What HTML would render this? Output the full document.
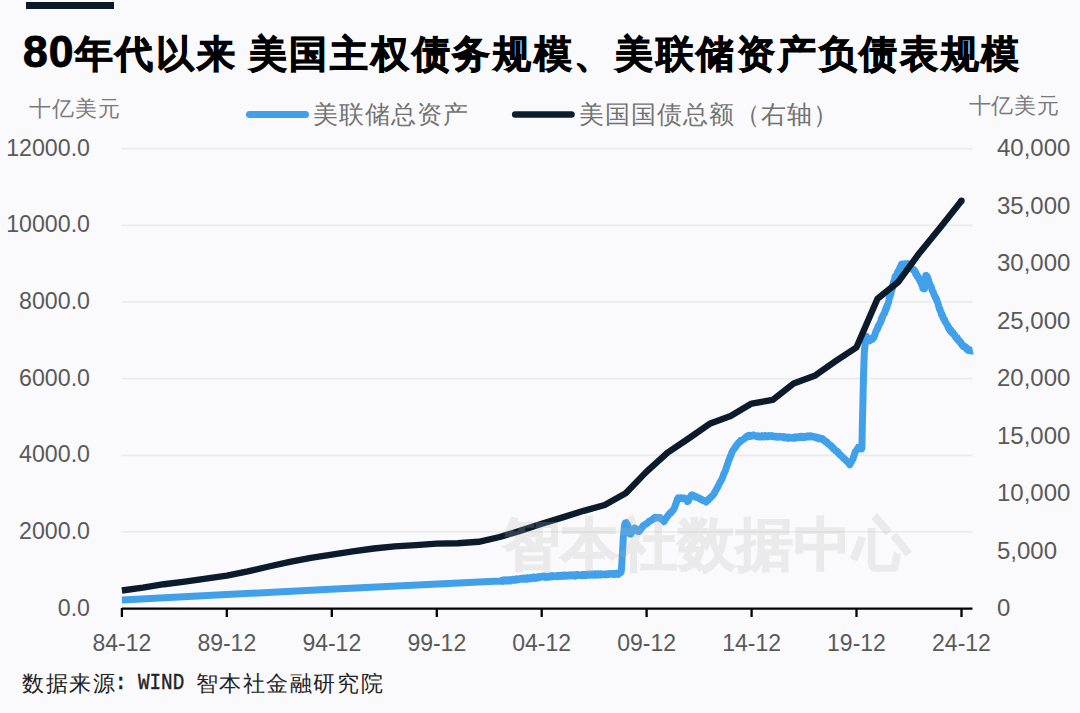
<!DOCTYPE html>
<html><head><meta charset="utf-8"><style>
html,body{margin:0;padding:0;}
body{width:1080px;height:713px;background:#fafafc;position:relative;overflow:hidden;font-family:"Liberation Sans",sans-serif;}
.bar{position:absolute;left:26px;top:2px;width:88px;height:7px;background:#0b1b2c;}
.title{position:absolute;left:23px;top:27px;font-size:38px;letter-spacing:2.7px;font-weight:bold;color:#000;white-space:nowrap;line-height:50px;-webkit-text-stroke:0.9px #000;}
.title .d{font-size:44.5px;letter-spacing:1px;}
.title .s{letter-spacing:0.9px;}
.unit{position:absolute;font-size:22px;color:#7a7a7a;letter-spacing:0.85px;line-height:30px;white-space:nowrap;}
.leg{position:absolute;font-size:24.6px;letter-spacing:1.1px;color:#727272;line-height:30px;white-space:nowrap;}
.yl{position:absolute;right:990px;font-size:23.2px;color:#595959;line-height:28px;white-space:nowrap;text-align:right;}
.yr{position:absolute;left:997px;font-size:24px;color:#595959;line-height:28px;white-space:nowrap;}
.xl{position:absolute;top:628.5px;width:100px;text-align:center;font-size:23px;color:#595959;line-height:28px;white-space:nowrap;}
.src{position:absolute;top:669px;font-size:21.5px;letter-spacing:1.6px;color:#222;line-height:30px;white-space:nowrap;}
.src.m{font-family:"Liberation Mono",monospace;font-size:22.4px;letter-spacing:0;top:668px;-webkit-text-stroke:0.4px #222;}
svg{position:absolute;left:0;top:0;}
.wm{position:absolute;left:503px;top:503.5px;font-size:57.3px;letter-spacing:1.3px;font-weight:bold;color:#b4b4b4;-webkit-text-stroke:1.6px #b4b4b4;opacity:0.22;white-space:nowrap;line-height:80px;}
</style></head><body>
<div class="bar"></div>
<div class="title"><span class="d">80</span>年代以来<span class="s"> </span>美国主权债务规模、美联储资产负债表规模</div>
<div class="unit" style="left:29px;top:94px;">十亿美元</div>
<div class="unit" style="left:968.5px;top:90.5px;">十亿美元</div>
<div class="leg" style="left:312.5px;top:99.5px;">美联储总资产</div>
<div class="leg" style="left:578.5px;top:99.5px;">美国国债总额（右轴）</div>
<div class="yl" style="top:593.6px">0.0</div><div class="yl" style="top:516.9px">2000.0</div><div class="yl" style="top:440.3px">4000.0</div><div class="yl" style="top:363.6px">6000.0</div><div class="yl" style="top:286.9px">8000.0</div><div class="yl" style="top:210.3px">10000.0</div><div class="yl" style="top:133.6px">12000.0</div>
<div class="yr" style="top:594.1px">0</div><div class="yr" style="top:536.6px">5,000</div><div class="yr" style="top:479.1px">10,000</div><div class="yr" style="top:421.6px">15,000</div><div class="yr" style="top:364.1px">20,000</div><div class="yr" style="top:306.6px">25,000</div><div class="yr" style="top:249.1px">30,000</div><div class="yr" style="top:191.6px">35,000</div><div class="yr" style="top:134.1px">40,000</div>
<div class="xl" style="left:71.9px">84-12</div><div class="xl" style="left:176.8px">89-12</div><div class="xl" style="left:281.8px">94-12</div><div class="xl" style="left:386.8px">99-12</div><div class="xl" style="left:491.7px">04-12</div><div class="xl" style="left:596.6px">09-12</div><div class="xl" style="left:701.6px">14-12</div><div class="xl" style="left:806.5px">19-12</div><div class="xl" style="left:911.5px">24-12</div>
<svg width="1080" height="713" viewBox="0 0 1080 713">
<g stroke="#ebebed" stroke-width="1.7"><line x1="121.5" y1="531.9" x2="972.5" y2="531.9"/><line x1="121.5" y1="455.3" x2="972.5" y2="455.3"/><line x1="121.5" y1="378.6" x2="972.5" y2="378.6"/><line x1="121.5" y1="301.9" x2="972.5" y2="301.9"/><line x1="121.5" y1="225.3" x2="972.5" y2="225.3"/><line x1="121.5" y1="148.6" x2="972.5" y2="148.6"/></g>
<line x1="249.5" y1="114.6" x2="305.5" y2="114.6" stroke="#42a0ea" stroke-width="7" stroke-linecap="round"/>
<line x1="515.2" y1="114.4" x2="571.5" y2="114.4" stroke="#0c1d2d" stroke-width="6.5" stroke-linecap="round"/>
<polyline fill="none" stroke="#41a0ea" stroke-width="7" stroke-linejoin="round" points="121.9,600.1 226.5,594.6 330.0,589.2 499.8,580.9 500.6,581.2 501.0,580.7 501.4,581.0 501.8,580.6 502.2,580.6 502.6,581.3 503.0,581.4 503.4,580.2 503.9,581.0 504.3,581.0 504.7,579.9 505.1,580.6 505.5,580.1 505.9,580.6 506.3,580.3 506.7,581.0 507.1,580.3 507.5,579.9 507.9,580.4 508.3,580.0 508.7,580.1 509.1,580.9 509.5,579.9 509.9,580.2 510.3,580.5 510.7,580.9 511.1,579.7 511.5,580.2 511.9,579.9 512.3,579.6 512.7,579.8 513.1,579.4 513.5,580.1 513.9,579.5 514.3,579.9 514.8,579.2 515.2,579.2 515.6,580.3 516.0,580.2 516.4,580.0 516.8,578.9 517.2,579.6 517.6,579.3 518.0,579.7 518.4,579.4 518.8,579.5 519.2,579.5 519.6,579.1 520.0,579.1 520.4,578.6 520.8,578.8 521.2,578.4 521.6,578.5 522.0,578.3 522.4,578.7 522.8,579.3 523.2,578.3 523.6,578.1 524.0,578.2 524.4,578.6 524.8,578.4 525.2,579.0 525.6,578.1 526.1,578.5 526.5,578.8 526.9,579.1 527.3,578.0 527.7,577.7 528.1,578.9 528.5,577.9 528.9,578.4 529.3,578.7 529.7,578.5 530.1,577.8 530.5,577.6 530.9,578.7 531.3,577.9 531.7,578.7 532.1,577.7 532.5,578.2 532.9,577.4 533.3,577.2 533.7,577.8 534.1,577.1 534.5,578.0 534.9,578.3 535.3,577.5 535.7,578.3 536.1,578.0 536.5,577.7 537.0,577.3 537.4,577.9 537.8,578.0 538.2,576.9 538.6,577.6 539.0,576.6 539.4,576.7 539.8,577.4 540.2,577.2 540.6,577.1 541.0,576.9 541.4,576.9 541.8,576.9 542.2,576.8 542.6,576.3 543.0,576.8 543.4,576.9 543.8,576.5 544.2,577.1 544.6,577.0 545.0,576.0 545.4,576.7 545.8,576.6 546.2,577.3 546.6,576.7 547.0,576.5 547.4,577.2 547.9,576.4 548.3,576.4 548.7,577.1 549.1,576.3 549.5,576.5 549.9,576.2 550.3,576.6 550.7,576.1 551.1,576.1 551.5,577.0 551.9,577.0 552.3,576.1 552.7,575.7 553.1,576.6 553.5,576.3 553.9,576.1 554.3,576.5 554.7,576.4 555.1,576.4 555.5,576.3 555.9,576.0 556.3,576.4 556.7,576.3 557.1,575.7 557.5,576.7 557.9,575.9 558.3,575.7 558.7,576.3 559.2,576.4 559.6,575.5 560.0,576.3 560.4,576.3 560.8,576.0 561.2,575.6 561.6,576.4 562.0,576.1 562.4,576.0 562.8,575.3 563.2,575.9 563.6,575.3 564.0,576.2 564.4,575.9 564.8,575.5 565.2,575.2 565.6,575.7 566.0,576.0 566.4,576.2 566.8,575.6 567.2,576.0 567.6,575.2 568.0,575.1 568.4,576.0 568.8,575.9 569.2,575.1 569.6,575.3 570.1,575.1 570.5,575.7 570.9,576.0 571.3,575.7 571.7,575.0 572.1,575.7 572.5,575.6 572.9,575.5 573.3,575.5 573.7,575.5 574.1,574.8 574.5,575.8 574.9,576.0 575.3,574.7 575.7,574.8 576.1,574.6 576.5,575.4 576.9,574.6 577.3,574.6 577.7,575.6 578.1,574.9 578.5,574.7 578.9,575.0 579.3,575.1 579.7,575.4 580.1,575.4 580.5,575.5 580.9,575.7 581.4,575.0 581.8,575.4 582.2,574.6 582.6,575.7 583.0,574.5 583.4,574.8 583.8,574.4 584.2,574.4 584.6,574.4 585.0,574.9 585.4,575.6 585.8,574.6 586.2,575.4 586.6,575.2 587.0,574.7 587.4,574.8 587.8,575.0 588.2,574.2 588.6,574.7 589.0,575.0 589.4,575.1 589.8,574.3 590.2,574.8 590.6,574.3 591.0,574.9 591.4,575.1 591.8,574.6 592.3,574.2 592.7,575.1 593.1,574.2 593.5,574.0 593.9,574.2 594.3,574.1 594.7,575.2 595.1,574.4 595.5,574.0 595.9,575.1 596.3,574.8 596.7,574.8 597.1,574.4 597.5,574.5 597.9,574.4 598.3,574.0 598.7,575.1 599.1,575.0 599.5,574.9 599.9,574.9 600.3,574.9 600.7,573.7 601.1,573.8 601.5,574.9 601.9,574.3 602.3,574.5 602.7,574.5 603.2,574.5 603.6,574.1 604.0,574.1 604.4,574.4 604.8,574.6 605.2,574.4 605.6,574.7 606.0,574.1 606.4,573.9 606.8,574.3 607.2,574.7 607.6,574.6 608.0,574.3 608.4,573.9 608.8,573.7 609.2,574.2 609.6,573.6 610.0,573.9 610.4,574.1 610.8,574.2 611.2,574.0 611.6,573.7 612.0,574.0 612.4,573.7 612.8,574.0 613.2,574.3 613.6,573.9 614.0,573.6 614.5,574.5 614.9,574.0 615.3,574.0 615.7,573.4 616.1,573.3 616.5,574.1 616.9,573.4 617.3,573.5 617.7,574.2 618.1,573.8 618.5,574.2 618.9,573.1 619.3,573.3 619.7,572.9 620.1,572.9 620.5,572.9 620.9,572.1 621.3,571.1 621.7,565.3 622.1,558.6 622.5,552.5 622.9,545.1 623.3,537.3 623.7,533.5 624.1,529.6 624.5,526.2 624.9,523.9 625.4,523.0 625.8,522.8 626.2,522.6 626.6,523.8 627.0,523.7 627.4,524.4 627.8,525.2 628.2,526.5 628.6,528.3 629.0,529.5 629.4,531.7 629.8,532.5 630.2,534.2 630.6,534.1 631.0,534.0 631.4,532.7 631.8,531.9 632.2,532.0 632.6,531.1 633.0,530.2 633.4,529.3 633.8,529.1 634.2,528.5 634.6,528.0 635.0,528.1 635.4,528.4 635.8,529.1 636.3,529.5 636.7,529.9 637.1,530.4 637.5,530.7 637.9,531.4 638.3,531.4 638.7,531.4 639.1,531.5 639.5,530.7 639.9,530.7 640.3,529.7 640.7,529.1 641.1,528.6 641.5,528.2 641.9,527.7 642.3,527.0 642.7,526.2 643.1,526.5 643.5,526.2 643.9,525.3 644.3,524.9 644.7,524.9 645.1,524.7 645.5,524.2 645.9,524.4 646.3,524.0 646.7,523.7 647.1,523.1 647.6,523.0 648.0,522.8 648.4,522.1 648.8,521.5 649.2,521.9 649.6,521.2 650.0,521.1 650.4,520.4 650.8,520.4 651.2,520.4 651.6,520.1 652.0,520.0 652.4,519.3 652.8,519.1 653.2,519.0 653.6,518.5 654.0,518.3 654.4,517.7 654.8,518.2 655.2,517.5 655.6,517.9 656.0,517.8 656.4,517.9 656.8,517.6 657.2,517.6 657.6,517.9 658.0,517.9 658.5,517.7 658.9,517.6 659.3,518.0 659.7,517.7 660.1,517.6 660.5,518.4 660.9,518.9 661.3,519.3 661.7,519.2 662.1,519.5 662.5,519.6 662.9,520.0 663.3,520.9 663.7,521.3 664.1,521.6 664.5,521.1 664.9,520.0 665.3,519.3 665.7,518.6 666.1,518.6 666.5,517.4 666.9,517.3 667.3,516.6 667.7,515.7 668.1,515.7 668.5,515.1 668.9,514.1 669.3,514.1 669.8,513.7 670.2,513.0 670.6,512.5 671.0,512.7 671.4,512.0 671.8,511.5 672.2,511.1 672.6,510.9 673.0,510.1 673.4,509.4 673.8,509.5 674.2,508.3 674.6,507.6 675.0,506.4 675.4,504.9 675.8,504.4 676.2,502.6 676.6,501.5 677.0,501.2 677.4,499.3 677.8,498.7 678.2,497.9 678.6,498.0 679.0,498.4 679.4,498.0 679.8,498.1 680.2,497.9 680.7,498.4 681.1,498.0 681.5,497.8 681.9,498.0 682.3,498.2 682.7,498.6 683.1,498.2 683.5,498.3 683.9,498.0 684.3,498.0 684.7,498.1 685.1,498.5 685.5,498.5 685.9,499.1 686.3,500.0 686.7,499.9 687.1,500.6 687.5,501.6 687.9,501.2 688.3,501.1 688.7,500.1 689.1,499.0 689.5,498.3 689.9,497.6 690.3,496.7 690.7,496.1 691.1,495.4 691.6,495.1 692.0,495.4 692.4,494.9 692.8,495.1 693.2,495.5 693.6,495.5 694.0,496.0 694.4,496.3 694.8,496.4 695.2,496.1 695.6,497.1 696.0,496.8 696.4,497.2 696.8,496.9 697.2,497.5 697.6,497.7 698.0,497.8 698.4,497.9 698.8,497.9 699.2,498.5 699.6,498.2 700.0,499.1 700.4,499.1 700.8,499.5 701.2,499.7 701.6,499.2 702.0,499.5 702.4,500.2 702.9,500.4 703.3,500.4 703.7,500.3 704.1,500.4 704.5,500.7 704.9,501.0 705.3,501.6 705.7,501.6 706.1,502.0 706.5,501.3 706.9,500.9 707.3,500.9 707.7,500.5 708.1,499.6 708.5,500.0 708.9,498.9 709.3,498.4 709.7,498.0 710.1,498.2 710.5,497.6 710.9,497.2 711.3,496.8 711.7,496.1 712.1,496.1 712.5,496.0 712.9,495.2 713.3,494.9 713.8,494.0 714.2,493.1 714.6,493.1 715.0,491.6 715.4,491.0 715.8,490.4 716.2,489.6 716.6,488.9 717.0,488.5 717.4,487.4 717.8,487.1 718.2,485.9 718.6,485.1 719.0,484.5 719.4,483.7 719.8,482.6 720.2,481.9 720.6,481.8 721.0,480.5 721.4,479.9 721.8,479.5 722.2,478.2 722.6,477.4 723.0,476.5 723.4,475.1 723.8,473.8 724.2,473.4 724.7,471.9 725.1,471.1 725.5,470.5 725.9,468.7 726.3,467.8 726.7,466.3 727.1,465.4 727.5,464.2 727.9,463.5 728.3,461.9 728.7,460.7 729.1,459.6 729.5,458.9 729.9,457.4 730.3,456.6 730.7,455.9 731.1,454.8 731.5,453.6 731.9,452.4 732.3,451.8 732.7,450.9 733.1,450.1 733.5,449.7 733.9,449.3 734.3,448.4 734.7,448.2 735.1,447.5 735.5,446.6 736.0,446.4 736.4,446.1 736.8,444.7 737.2,444.3 737.6,444.2 738.0,443.6 738.4,442.8 738.8,442.2 739.2,442.3 739.6,442.2 740.0,441.7 740.4,440.7 740.8,441.2 741.2,440.5 741.6,440.6 742.0,440.3 742.4,440.0 742.8,439.4 743.2,439.4 743.6,439.3 744.0,438.9 744.4,438.5 744.8,437.9 745.2,438.1 745.6,437.8 746.0,437.0 746.4,436.8 746.9,436.1 747.3,436.6 747.7,436.2 748.1,436.1 748.5,436.5 748.9,435.4 749.3,436.2 749.7,436.3 750.1,435.8 750.5,436.2 750.9,435.6 751.3,435.9 751.7,436.1 752.1,436.1 752.5,435.3 752.9,435.8 753.3,435.3 753.7,435.7 754.1,435.2 754.5,436.0 754.9,436.1 755.3,436.2 755.7,435.6 756.1,435.8 756.5,436.2 756.9,436.6 757.3,435.9 757.8,435.7 758.2,436.2 758.6,436.9 759.0,437.0 759.4,436.9 759.8,436.9 760.2,437.0 760.6,437.0 761.0,436.2 761.4,435.9 761.8,436.8 762.2,435.8 762.6,436.4 763.0,436.0 763.4,435.8 763.8,435.8 764.2,436.9 764.6,436.5 765.0,436.1 765.4,435.7 765.8,436.7 766.2,436.5 766.6,435.8 767.0,436.7 767.4,436.3 767.8,436.4 768.2,435.9 768.6,435.6 769.1,436.5 769.5,435.8 769.9,435.9 770.3,435.8 770.7,436.1 771.1,435.7 771.5,436.4 771.9,436.4 772.3,436.6 772.7,436.0 773.1,436.4 773.5,436.7 773.9,436.8 774.3,436.2 774.7,436.3 775.1,436.2 775.5,436.7 775.9,436.6 776.3,437.0 776.7,436.3 777.1,437.2 777.5,436.7 777.9,436.4 778.3,436.5 778.7,437.2 779.1,437.1 779.5,436.4 780.0,436.6 780.4,436.4 780.8,436.4 781.2,437.0 781.6,436.5 782.0,436.7 782.4,437.2 782.8,437.2 783.2,437.6 783.6,437.3 784.0,436.7 784.4,437.7 784.8,437.2 785.2,437.8 785.6,437.9 786.0,437.2 786.4,437.8 786.8,438.0 787.2,438.0 787.6,437.4 788.0,437.5 788.4,438.3 788.8,438.0 789.2,437.2 789.6,438.1 790.0,437.8 790.4,438.0 790.8,437.6 791.3,437.8 791.7,437.7 792.1,437.9 792.5,438.3 792.9,438.3 793.3,438.3 793.7,437.4 794.1,438.2 794.5,438.3 794.9,437.1 795.3,438.0 795.7,437.1 796.1,438.0 796.5,437.5 796.9,437.7 797.3,437.0 797.7,437.2 798.1,437.1 798.5,436.9 798.9,436.7 799.3,437.3 799.7,436.9 800.1,437.1 800.5,437.4 800.9,436.5 801.3,436.8 801.7,436.5 802.2,437.2 802.6,436.8 803.0,436.8 803.4,436.5 803.8,437.3 804.2,436.9 804.6,436.8 805.0,437.2 805.4,436.6 805.8,436.4 806.2,436.8 806.6,436.5 807.0,436.5 807.4,437.0 807.8,436.8 808.2,436.0 808.6,436.8 809.0,436.6 809.4,437.0 809.8,436.9 810.2,436.9 810.6,436.0 811.0,436.2 811.4,436.1 811.8,436.1 812.2,436.6 812.6,436.3 813.1,436.9 813.5,437.1 813.9,436.5 814.3,436.7 814.7,436.7 815.1,437.3 815.5,437.1 815.9,437.6 816.3,437.0 816.7,437.1 817.1,438.0 817.5,437.3 817.9,438.3 818.3,438.5 818.7,437.8 819.1,438.4 819.5,438.2 819.9,438.1 820.3,438.9 820.7,438.2 821.1,438.8 821.5,438.7 821.9,438.9 822.3,438.6 822.7,438.9 823.1,439.8 823.5,440.3 823.9,440.4 824.4,440.6 824.8,441.3 825.2,441.6 825.6,441.2 826.0,441.6 826.4,441.6 826.8,441.9 827.2,442.3 827.6,443.2 828.0,443.8 828.4,443.9 828.8,444.1 829.2,444.3 829.6,444.7 830.0,445.3 830.4,445.1 830.8,446.1 831.2,446.3 831.6,446.2 832.0,446.7 832.4,447.6 832.8,448.1 833.2,447.8 833.6,449.1 834.0,449.3 834.4,449.2 834.8,449.6 835.3,450.4 835.7,450.9 836.1,451.1 836.5,450.9 836.9,451.6 837.3,451.4 837.7,452.0 838.1,452.1 838.5,453.6 838.9,453.8 839.3,454.3 839.7,454.3 840.1,454.7 840.5,455.4 840.9,455.3 841.3,456.2 841.7,456.4 842.1,456.8 842.5,456.7 842.9,457.5 843.3,458.0 843.7,458.7 844.1,458.7 844.5,458.9 844.9,459.2 845.3,459.4 845.7,459.9 846.2,460.9 846.6,461.4 847.0,461.2 847.4,461.5 847.8,462.2 848.2,462.3 848.6,463.0 849.0,463.7 849.4,464.2 849.8,464.8 850.2,463.8 850.6,462.9 851.0,462.2 851.4,462.0 851.8,461.1 852.2,460.2 852.6,459.6 853.0,458.9 853.4,457.7 853.8,456.3 854.2,455.3 854.6,454.0 855.0,452.2 855.4,451.3 855.8,451.2 856.2,450.8 856.6,450.3 857.0,449.6 857.5,448.7 857.9,448.5 858.3,447.3 858.7,448.3 859.1,448.3 859.5,448.2 859.9,448.5 860.3,448.2 860.7,448.4 861.1,448.4 861.5,448.9 861.9,448.1 862.3,427.7 862.7,410.5 863.1,393.4 863.5,376.5 863.9,364.2 864.3,352.8 864.7,348.9 865.1,343.6 865.5,339.9 865.9,336.4 866.3,336.3 866.7,336.7 867.1,337.9 867.5,339.4 867.9,338.6 868.4,340.6 868.8,340.9 869.2,340.3 869.6,340.9 870.0,340.7 870.4,339.2 870.8,338.9 871.2,339.8 871.6,339.4 872.0,339.3 872.4,339.3 872.8,338.8 873.2,337.1 873.6,338.2 874.0,337.0 874.4,336.1 874.8,335.4 875.2,333.6 875.6,332.3 876.0,331.1 876.4,330.6 876.8,329.3 877.2,329.9 877.6,328.5 878.0,326.2 878.4,327.0 878.8,325.7 879.2,324.4 879.7,323.9 880.1,322.5 880.5,322.6 880.9,321.3 881.3,318.9 881.7,319.7 882.1,317.2 882.5,317.8 882.9,315.2 883.3,314.9 883.7,314.0 884.1,314.1 884.5,313.4 884.9,311.0 885.3,311.2 885.7,310.3 886.1,308.0 886.5,306.9 886.9,307.7 887.3,304.9 887.7,304.5 888.1,303.3 888.5,302.4 888.9,300.3 889.3,297.6 889.7,297.6 890.1,296.4 890.6,294.9 891.0,293.5 891.4,291.5 891.8,288.8 892.2,289.2 892.6,287.5 893.0,284.3 893.4,282.7 893.8,281.2 894.2,281.4 894.6,279.7 895.0,276.9 895.4,277.1 895.8,275.8 896.2,275.9 896.6,275.8 897.0,274.2 897.4,272.5 897.8,271.6 898.2,271.3 898.6,270.8 899.0,269.8 899.4,269.3 899.8,268.2 900.2,266.7 900.6,267.5 901.0,265.7 901.5,264.3 901.9,264.5 902.3,266.0 902.7,264.1 903.1,264.4 903.5,265.9 903.9,265.6 904.3,265.7 904.7,266.0 905.1,263.8 905.5,265.1 905.9,263.9 906.3,265.7 906.7,265.9 907.1,263.7 907.5,264.0 907.9,263.9 908.3,265.0 908.7,265.7 909.1,265.5 909.5,267.5 909.9,266.7 910.3,267.3 910.7,268.4 911.1,267.7 911.5,268.7 911.9,268.6 912.3,269.3 912.8,269.8 913.2,270.0 913.6,269.9 914.0,269.6 914.4,270.3 914.8,271.1 915.2,271.8 915.6,273.7 916.0,272.7 916.4,274.9 916.8,275.9 917.2,275.6 917.6,275.7 918.0,277.2 918.4,277.3 918.8,279.0 919.2,278.3 919.6,280.4 920.0,281.2 920.4,281.9 920.8,282.0 921.2,282.6 921.6,284.5 922.0,285.6 922.4,286.1 922.8,288.1 923.2,287.6 923.7,287.0 924.1,287.6 924.5,289.0 924.9,283.5 925.3,280.7 925.7,275.5 926.1,275.3 926.5,276.5 926.9,276.4 927.3,276.5 927.7,278.6 928.1,278.6 928.5,280.0 928.9,281.8 929.3,282.9 929.7,283.5 930.1,284.7 930.5,285.8 930.9,286.1 931.3,286.6 931.7,288.2 932.1,290.1 932.5,290.9 932.9,291.5 933.3,291.9 933.7,293.9 934.1,295.0 934.6,295.4 935.0,296.4 935.4,298.0 935.8,298.0 936.2,298.3 936.6,300.3 937.0,300.9 937.4,301.9 937.8,303.0 938.2,303.9 938.6,306.1 939.0,306.7 939.4,309.0 939.8,308.5 940.2,310.7 940.6,311.6 941.0,311.9 941.4,314.1 941.8,315.1 942.2,314.6 942.6,315.8 943.0,317.7 943.4,318.6 943.8,318.7 944.2,320.2 944.6,319.4 945.0,321.5 945.4,322.1 945.9,322.7 946.3,323.2 946.7,324.2 947.1,324.6 947.5,325.3 947.9,326.6 948.3,328.0 948.7,327.1 949.1,328.4 949.5,330.0 949.9,329.8 950.3,329.7 950.7,329.7 951.1,332.0 951.5,332.6 951.9,332.2 952.3,332.8 952.7,332.3 953.1,332.9 953.5,334.4 953.9,334.7 954.3,334.9 954.7,334.8 955.1,336.5 955.5,336.7 955.9,337.7 956.3,337.2 956.8,338.8 957.2,337.6 957.6,338.9 958.0,339.3 958.4,340.7 958.8,341.0 959.2,341.0 959.6,340.8 960.0,341.9 960.4,342.9 960.8,342.1 961.2,343.2 961.6,344.0 962.0,345.1 962.4,345.4 962.8,344.8 963.2,346.6 963.6,346.1 964.0,346.2 964.4,347.0 964.8,346.6 965.2,346.6 965.6,347.0 966.0,347.5 966.4,348.8 966.8,349.3 967.2,348.9 967.7,349.5 968.1,350.0 968.5,349.0 968.9,350.5 969.3,349.7 969.7,350.4 970.1,350.6 970.5,350.7 970.9,350.9 971.3,351.0 971.7,351.1 972.1,351.1 972.5,351.1 972.9,351.0"/>
<polyline fill="none" stroke="#0b1b2c" stroke-width="6.4" stroke-linejoin="round" points="121.9,590.5 142.9,587.6 163.9,584.2 184.9,581.6 205.9,578.7 226.8,575.7 247.8,571.4 268.8,566.5 289.8,561.9 310.8,557.9 331.8,554.6 352.8,551.4 373.8,548.5 394.8,546.4 415.8,545.1 436.8,543.6 457.7,543.3 478.7,541.8 499.7,537.0 520.7,530.6 541.7,523.7 562.7,517.4 583.7,510.8 604.7,505.0 625.7,493.3 646.6,471.6 667.6,452.6 688.6,438.5 709.6,423.8 730.6,416.1 751.6,403.6 772.6,399.9 793.6,383.5 814.6,375.8 835.6,361.2 856.5,347.3 877.5,298.7 898.5,281.7 919.5,252.9 940.5,227.2 961.5,200.8"/><circle cx="961.5" cy="200.8" r="3.2" fill="#0b1b2c"/>
<g stroke="#000" stroke-width="2.3" stroke-linecap="butt">
<line x1="121.9" y1="608.6" x2="972.5" y2="608.6"/>
<line x1="121.9" y1="608" x2="121.9" y2="617"/><line x1="226.8" y1="608" x2="226.8" y2="617"/><line x1="331.8" y1="608" x2="331.8" y2="617"/><line x1="436.8" y1="608" x2="436.8" y2="617"/><line x1="541.7" y1="608" x2="541.7" y2="617"/><line x1="646.6" y1="608" x2="646.6" y2="617"/><line x1="751.6" y1="608" x2="751.6" y2="617"/><line x1="856.5" y1="608" x2="856.5" y2="617"/><line x1="961.5" y1="608" x2="961.5" y2="617"/>
</g>
</svg>
<div class="wm">智本社数据中心</div>
<div class="src" style="left:22px">数据来源</div><div class="src m" style="left:114px">:</div><div class="src m" style="left:137.5px;transform:scaleX(0.86);transform-origin:0 0;">WIND</div><div class="src" style="left:195.5px">智本社金融研究院</div>
</body></html>
